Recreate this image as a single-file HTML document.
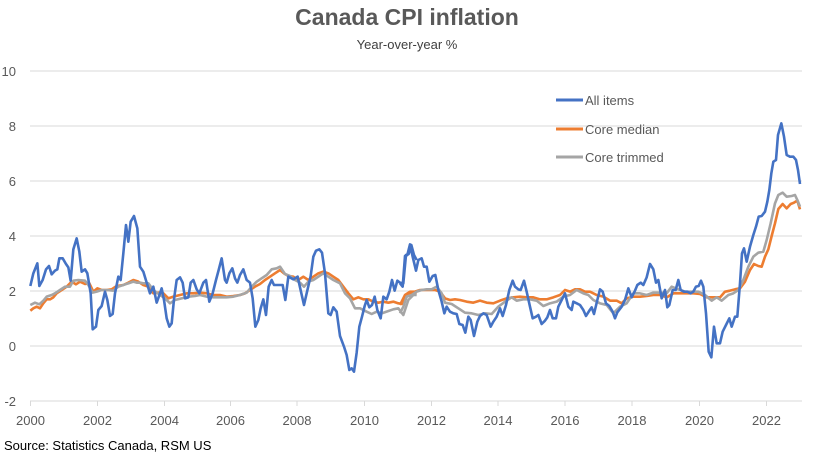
<!DOCTYPE html>
<html><head><meta charset="utf-8"><style>
html,body{margin:0;padding:0;background:#fff;}
svg{display:block;font-family:"Liberation Sans",sans-serif;}
</style></head><body>
<svg width="814" height="466" viewBox="0 0 814 466" xmlns="http://www.w3.org/2000/svg">
<rect width="814" height="466" fill="#fff"/>
<text x="407" y="25" text-anchor="middle" font-size="23" font-weight="bold" fill="#595959">Canada CPI inflation</text>
<text x="407" y="49" text-anchor="middle" font-size="13" fill="#404040">Year-over-year %</text>
<g stroke="#d9d9d9" stroke-width="1">
<line x1="30" x2="802" y1="71" y2="71"/><line x1="30" x2="802" y1="126" y2="126"/>
<line x1="30" x2="802" y1="181" y2="181"/><line x1="30" x2="802" y1="236" y2="236"/>
<line x1="30" x2="802" y1="291" y2="291"/><line x1="30" x2="802" y1="346" y2="346"/>
<line x1="30" x2="802" y1="401" y2="401"/>
<line x1="30.5" x2="30.5" y1="401" y2="406"/><line x1="97.5" x2="97.5" y1="401" y2="406"/>
<line x1="164.5" x2="164.5" y1="401" y2="406"/><line x1="230.5" x2="230.5" y1="401" y2="406"/>
<line x1="297" x2="297" y1="401" y2="406"/><line x1="364.5" x2="364.5" y1="401" y2="406"/>
<line x1="431.5" x2="431.5" y1="401" y2="406"/><line x1="498" x2="498" y1="401" y2="406"/>
<line x1="565" x2="565" y1="401" y2="406"/><line x1="632" x2="632" y1="401" y2="406"/>
<line x1="699.5" x2="699.5" y1="401" y2="406"/><line x1="766.5" x2="766.5" y1="401" y2="406"/>
</g>
<g font-size="13" fill="#595959" text-anchor="end">
<text x="16" y="76">10</text><text x="16" y="131">8</text><text x="16" y="186">6</text>
<text x="16" y="241">4</text><text x="16" y="296">2</text><text x="16" y="351">0</text><text x="16" y="406">-2</text>
</g>
<g font-size="13" fill="#595959" text-anchor="middle">
<text x="30.5" y="425">2000</text><text x="97.5" y="425">2002</text><text x="164.5" y="425">2004</text>
<text x="230.5" y="425">2006</text><text x="297" y="425">2008</text><text x="364.5" y="425">2010</text>
<text x="431.5" y="425">2012</text><text x="498" y="425">2014</text><text x="565" y="425">2016</text>
<text x="632" y="425">2018</text><text x="699.5" y="425">2020</text><text x="766.5" y="425">2022</text>
</g>
<text x="4" y="450" font-size="13" fill="#000">Source: Statistics Canada, RSM US</text>
<g fill="none" stroke-width="2.6" stroke-linejoin="round">
<g transform="translate(0,60) scale(0.33333)">
<polyline vector-effect="non-scaling-stroke" stroke="#ed7d31" points="91,752 100,745 110,740 120,745 130,730 140,718 150,718 160,712 170,700 185,690 200,680 215,665 228,673 240,665 255,672 268,670 280,695 292,685 305,690 320,690 335,688 350,678 370,675 385,668 400,660 415,665 430,675 445,680 460,700 475,698 490,700 505,715 520,710 540,705 560,700 580,700 600,698 620,700 640,705 660,705 680,710 700,708 720,705 735,700 750,690 765,680 780,672 795,660 810,650 825,640 840,630 852,640 865,648 880,650 895,660 910,650 925,660 940,650 955,640 970,635 985,640 1000,650 1015,660 1030,680 1045,700 1060,718 1075,712 1090,718 1105,718 1120,725 1135,728 1150,725 1165,728 1180,725 1195,730 1210,732 1220,710 1235,700 1250,700"/>
<polyline vector-effect="non-scaling-stroke" stroke="#a5a5a5" points="91,735 105,728 118,733 130,722 140,710 155,705 165,700 180,690 195,680 210,680 220,662 235,660 255,662 265,675 278,698 290,695 305,690 320,690 340,692 355,680 370,675 385,670 400,665 410,668 420,668 430,670 445,670 460,690 480,705 495,715 510,730 525,720 545,715 565,710 585,708 600,705 620,710 640,712 660,712 680,712 700,710 720,705 740,698 755,680 770,665 785,655 800,645 815,628 830,625 840,620 855,642 870,648 885,660 900,668 912,680 925,665 940,660 955,650 970,640 985,650 1000,660 1020,670 1035,700 1050,715 1065,745 1080,745 1100,755 1115,762 1130,755 1145,760 1160,755 1180,748 1195,745 1210,765 1225,720 1240,705 1250,705"/>
<polyline vector-effect="non-scaling-stroke" stroke="#4472c4" points="91,678 100,640 112,610 118,678 128,660 138,628 147,618 155,643 165,632 172,628 178,595 188,595 198,612 205,622 212,662 220,568 230,535 238,575 245,635 255,628 262,640 272,700 278,808 288,800 295,750 305,738 315,695 322,720 330,768 338,762 345,700 355,650 362,660 370,580 378,495 385,545 392,485 402,468 412,505 420,620 430,635 440,668 450,700 460,680 470,728 480,700 485,685 492,720 500,775 508,800 515,790 522,718 530,660 540,652 548,668 555,715 565,712 572,668 580,660 590,688 598,700 610,668 618,660 628,725 638,700 648,660 656,630 665,595 675,660 680,668 688,640 697,625 705,655 712,668 720,645 730,628 740,660 750,668 758,715 766,800 775,780 782,745 790,718 798,765 806,680 815,660 822,675 835,675 848,675 856,720 865,650 880,658 893,650 900,682 912,735 920,700 932,648 940,590 948,572 958,568 966,578 975,640 985,760 992,765 1000,742 1010,755 1020,828 1032,860 1040,885 1048,930 1055,925 1062,935 1070,878 1078,800 1086,770 1094,738 1100,720 1108,742 1116,735 1124,710 1132,750 1142,775 1150,710 1160,718 1168,695 1176,660 1184,692 1192,662 1200,668 1210,670 1218,585 1226,582 1234,555 1242,585 1250,600"/>
</g>
<g transform="translate(400,60) scale(0.33333)">
<polyline vector-effect="non-scaling-stroke" stroke="#ed7d31" points="0,735 15,705 30,695 45,695 60,690 75,690 90,690 105,690 120,695 135,715 150,720 165,718 180,720 200,725 220,728 240,722 260,728 280,730 300,722 320,715 340,712 360,710 380,712 400,712 420,718 440,718 460,712 480,705 495,690 510,695 525,688 540,688 555,695 570,695 590,705 610,710 630,722 650,722 665,730 680,715 700,710 720,710 740,708 760,705 780,705 800,712 820,700 840,700 860,700 880,700 900,702 920,712 940,712 960,712 975,695 990,692 1005,688 1020,685 1035,665 1050,630 1062,612 1075,618 1085,620 1095,590 1105,568 1115,528 1125,490 1135,447 1148,432 1160,445 1172,432 1182,428 1192,422 1200,448"/>
<polyline vector-effect="non-scaling-stroke" stroke="#a5a5a5" points="0,760 10,740 20,710 35,705 50,695 65,690 80,688 95,688 110,680 125,700 135,728 155,732 175,745 195,758 215,760 235,765 255,760 275,762 295,740 315,725 335,712 350,722 370,718 390,718 410,722 430,738 450,730 470,725 490,710 510,705 530,690 550,700 565,705 580,720 600,730 620,735 640,760 660,740 680,730 700,700 720,700 740,705 760,698 780,698 800,700 815,680 835,688 855,695 875,695 895,695 915,705 935,722 950,712 965,722 985,705 1000,700 1015,690 1030,660 1045,620 1060,590 1075,578 1090,575 1100,540 1112,490 1125,430 1135,405 1148,398 1160,410 1175,408 1185,405 1192,420 1200,440"/>
<polyline vector-effect="non-scaling-stroke" stroke="#4472c4" points="0,670 8,680 15,588 22,585 30,553 38,590 48,632 55,600 65,595 72,620 80,620 88,665 98,648 106,645 115,690 125,725 133,760 140,740 150,755 160,760 170,762 178,792 188,795 196,818 205,770 212,780 222,828 232,785 240,768 250,760 260,765 272,800 280,785 290,770 300,745 308,768 318,735 328,690 338,662 345,680 355,688 362,690 372,662 380,695 390,740 398,775 408,770 415,765 425,792 435,782 442,772 450,750 458,775 468,775 475,740 485,720 495,700 505,740 515,750 520,725 530,730 540,735 550,750 558,768 568,752 575,742 582,762 592,720 600,688 608,695 618,730 628,738 638,755 645,775 652,757 665,740 675,720 685,685 695,712 705,692 712,675 722,668 730,675 740,652 750,612 760,628 768,668 775,660 785,715 795,690 802,742 808,735 818,690 827,690 835,660 842,690 852,695 862,695 872,700 880,695 888,680 896,678 903,662 910,680 918,760 926,875 934,892 942,800 950,850 960,850 968,815 978,795 988,775 995,800 1005,770 1012,770 1020,670 1026,580 1032,565 1040,605 1050,560 1060,525 1068,500 1076,470 1085,468 1095,455 1102,425 1108,390 1114,340 1120,305 1128,300 1134,225 1144,190 1152,230 1160,285 1170,290 1180,290 1188,300 1194,330 1200,372"/>
</g>
</g>
<g stroke-width="3">
<line x1="556" x2="583" y1="100" y2="100" stroke="#4472c4"/>
<line x1="556" x2="583" y1="129" y2="129" stroke="#ed7d31"/>
<line x1="556" x2="583" y1="157" y2="157" stroke="#a5a5a5"/>
</g>
<g font-size="13" fill="#595959">
<text x="585" y="105">All items</text>
<text x="585" y="134">Core median</text>
<text x="585" y="162">Core trimmed</text>
</g>
</svg>
</body></html>
